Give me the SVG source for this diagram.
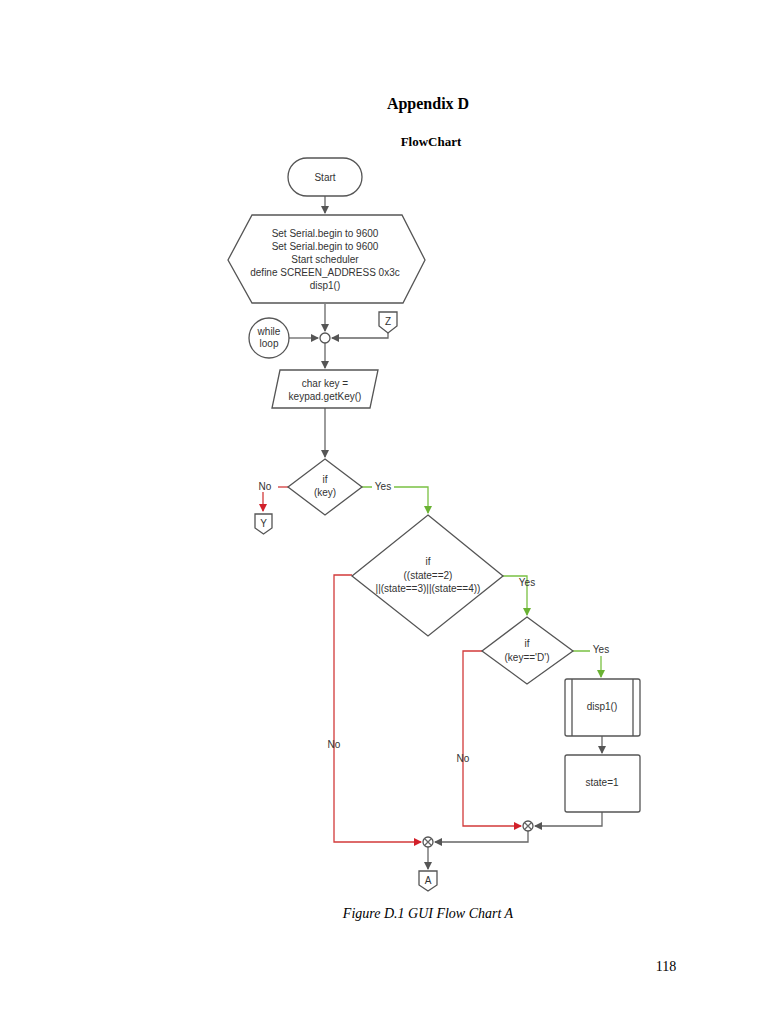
<svg xmlns="http://www.w3.org/2000/svg" width="768" height="1024" viewBox="0 0 768 1024">
<style>
.s{fill:#fff;stroke:#555;stroke-width:1.3}
.t{font-family:"Liberation Sans",Arial,sans-serif;font-size:10px;fill:#333;text-anchor:middle}
.l{fill:none;stroke:#666;stroke-width:1.3}
.r{fill:none;stroke:#d23a3a;stroke-width:1.3}
.g{fill:none;stroke:#7ac143;stroke-width:1.3}
.h{font-family:"Liberation Serif","Times New Roman",serif;fill:#000;text-anchor:middle}
</style>
<defs>
<marker id="ak" markerWidth="8" markerHeight="8" refX="7" refY="4" orient="auto" markerUnits="userSpaceOnUse"><path d="M0,0L8,4L0,8z" fill="#555"/></marker>
<marker id="ar" markerWidth="8" markerHeight="8" refX="7" refY="4" orient="auto" markerUnits="userSpaceOnUse"><path d="M0,0L8,4L0,8z" fill="#d2202a"/></marker>
<marker id="ag" markerWidth="8" markerHeight="8" refX="7" refY="4" orient="auto" markerUnits="userSpaceOnUse"><path d="M0,0L8,4L0,8z" fill="#6ab233"/></marker>
</defs>
<rect width="768" height="1024" fill="#fff"/>
<text class="h" x="428" y="109" font-size="16" font-weight="bold">Appendix D</text>
<text class="h" x="431" y="146" font-size="13" font-weight="bold">FlowChart</text>
<text class="h" x="428" y="918" font-size="14" font-style="italic">Figure D.1 GUI Flow Chart A</text>
<text class="h" x="666" y="971" font-size="14">118</text>

<g id="connectors">
<path class="l" d="M325,196V213" marker-end="url(#ak)"/>
<path class="l" d="M325,304V331" marker-end="url(#ak)"/>
<path class="l" d="M289,338H318" marker-end="url(#ak)"/>
<path class="l" d="M388,333V338H332" marker-end="url(#ak)"/>
<path class="l" d="M325,343V368" marker-end="url(#ak)"/>
<path class="l" d="M325,408V457" marker-end="url(#ak)"/>
<path class="r" d="M278,487H288"/>
<path class="r" d="M263,492V511" marker-end="url(#ar)"/>
<path class="g" d="M362,487H372M394,487H428V513" marker-end="url(#ag)"/>
<path class="g" d="M503,576H527V615" marker-end="url(#ag)"/>
<path class="g" d="M573,651H590M601,656V677" marker-end="url(#ag)"/>
<path class="l" d="M602,736V753" marker-end="url(#ak)"/>
<path class="l" d="M602,812V826H535" marker-end="url(#ak)"/>
<path class="r" d="M482,651H463V826H521" marker-end="url(#ar)"/>
<path class="l" d="M528,831V842H435" marker-end="url(#ak)"/>
<path class="r" d="M352,575H334V842H421" marker-end="url(#ar)"/>
<path class="l" d="M428,847V869" marker-end="url(#ak)"/>
<text class="t" x="265" y="490" font-size="10">No</text>
<text class="t" x="383" y="490">Yes</text>
<text class="t" x="527" y="586">Yes</text>
<text class="t" x="601" y="653">Yes</text>
<text class="t" x="463" y="762">No</text>
<text class="t" x="334" y="748">No</text>
</g>

<g id="start"><rect class="s" x="288" y="158" width="74" height="38" rx="19"/><text class="t" x="325" y="181">Start</text></g>
<g id="init"><path class="s" d="M252,215H402L425,260L403,303H252L228,260Z"/>
<text class="t" x="325" y="237">Set Serial.begin to 9600</text>
<text class="t" x="325" y="250">Set Serial.begin to 9600</text>
<text class="t" x="325" y="263">Start scheduler</text>
<text class="t" x="325" y="276">define SCREEN_ADDRESS 0x3c</text>
<text class="t" x="325" y="289">disp1()</text></g>
<g id="while"><circle class="s" cx="269" cy="338" r="20"/><text class="t" x="269" y="335">while</text><text class="t" x="269" y="347">loop</text></g>
<g id="junction"><circle class="s" cx="325" cy="338" r="5"/></g>
<g id="z"><path class="s" d="M379,312H397V326L388,333L379,326Z"/><text class="t" x="388" y="325">Z</text></g>
<g id="getkey"><path class="s" d="M280,370H378L370,408H272Z"/><text class="t" x="325" y="387">char key =</text><text class="t" x="325" y="400">keypad.getKey()</text></g>
<g id="d1"><path class="s" d="M325,459L362,487L325,515L288,487Z"/><text class="t" x="325" y="483">if</text><text class="t" x="325" y="496">(key)</text></g>
<g id="y"><path class="s" d="M255,514H272V528L263.5,534L255,528Z"/><text class="t" x="263.5" y="527" font-size="9">Y</text></g>
<g id="d2"><path class="s" d="M428,515L503,576L428,636L352,576Z"/><text class="t" x="428" y="565">if</text><text class="t" x="428" y="579">((state==2)</text><text class="t" x="428" y="592">||(state==3)||(state==4))</text></g>
<g id="d3"><path class="s" d="M527,617L573,651L527,684L482,651Z"/><text class="t" x="527" y="647">if</text><text class="t" x="527" y="661">(key=='D')</text></g>
<g id="disp1"><rect class="s" x="565" y="679" width="75" height="57" rx="2"/><path class="s" d="M572,679V736M633,679V736"/><text class="t" x="602" y="710" font-size="8">disp1()</text></g>
<g id="state1"><rect class="s" x="565" y="755" width="75" height="57" rx="2"/><text class="t" x="602" y="786">state=1</text></g>
<g id="m1"><circle class="s" cx="528" cy="826" r="5"/><path class="l" d="M524.5,822.5l7,7M531.5,822.5l-7,7"/></g>
<g id="m2"><circle class="s" cx="428" cy="842" r="5"/><path class="l" d="M424.5,838.5l7,7M431.5,838.5l-7,7"/></g>
<g id="a"><path class="s" d="M419,871H437V885L428,891L419,885Z"/><text class="t" x="428" y="884" font-size="9">A</text></g>
</svg>
